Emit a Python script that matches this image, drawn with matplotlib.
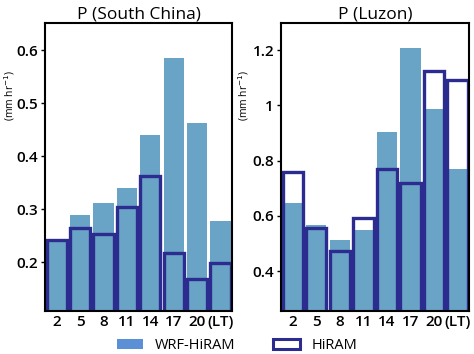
import matplotlib.pyplot as plt
import numpy as np
from matplotlib.patches import Patch

hours = ['2', '5', '8', '11', '14', '17', '20', '(LT)']

sc_wrf = [0.24, 0.289, 0.311, 0.34, 0.44, 0.585, 0.462, 0.277]
sc_hiram = [0.243, 0.264, 0.254, 0.304, 0.362, 0.217, 0.168, 0.198]

lz_wrf = [0.648, 0.567, 0.513, 0.548, 0.905, 1.208, 0.985, 0.771]
lz_hiram = [0.76, 0.555, 0.473, 0.594, 0.77, 0.719, 1.124, 1.09]

fill_col = '#69a3c6'
edge_col = '#2c2c90'
legend_col = '#5b8fd6'

plt.rcParams['font.family'] = ['Open Sans', 'DejaVu Sans']

fig = plt.figure(figsize=(4.74, 3.54), dpi=100)
ax1 = fig.add_axes([0.095, 0.121, 0.395, 0.814])
ax2 = fig.add_axes([0.593, 0.121, 0.397, 0.814])

x = np.arange(len(hours))
panels = [
    (ax1, sc_wrf, sc_hiram, 'P (South China)', (0.108, 0.651), [0.2, 0.3, 0.4, 0.5, 0.6],
     ['0.2', '0.3', '0.4', '0.5', '0.6'], -0.15),
    (ax2, lz_wrf, lz_hiram, 'P (Luzon)', (0.255, 1.298), [0.4, 0.6, 0.8, 1.0, 1.2],
     ['0.4', '0.6', '0.8', '1', '1.2'], -0.16),
]

for ax, wrf, hiram, title, ylim, yt, ytl, lx in panels:
    ax.bar(x, wrf, width=0.86, color=fill_col, edgecolor='none', zorder=1)
    ax.bar(x, hiram, width=0.86, facecolor='none', edgecolor=edge_col,
           linewidth=2.4, zorder=2)
    ax.set_xlim(-0.5, 7.5)
    ax.set_ylim(*ylim)
    ax.set_yticks(yt)
    ax.set_yticklabels(ytl, fontsize=11, fontweight='semibold')
    ax.set_xticks(x)
    ax.set_xticklabels(hours, fontsize=11, fontweight='semibold')
    ax.tick_params(axis='x', length=0, pad=3)
    ax.tick_params(axis='y', length=3, width=1, pad=2)
    for s in ax.spines.values():
        s.set_linewidth(1.5)
    ax.set_title(title, fontsize=12.5, pad=3)
    ax.set_ylabel('(mm hr$^{-1}$)', fontsize=7.5)
    ax.yaxis.set_label_coords(lx, 0.75)

handles = [Patch(facecolor=legend_col, edgecolor='none', label='WRF-HiRAM'),
           Patch(facecolor='white', edgecolor=edge_col, linewidth=2.2, label='HiRAM')]
fig.legend(handles=handles, loc='lower center', bbox_to_anchor=(0.5, -0.035),
           ncol=2, frameon=False, fontsize=10.5, handlelength=1.8, handleheight=0.6,
           handletextpad=0.8, columnspacing=2.6)

fig.savefig('out.png', dpi=100)
